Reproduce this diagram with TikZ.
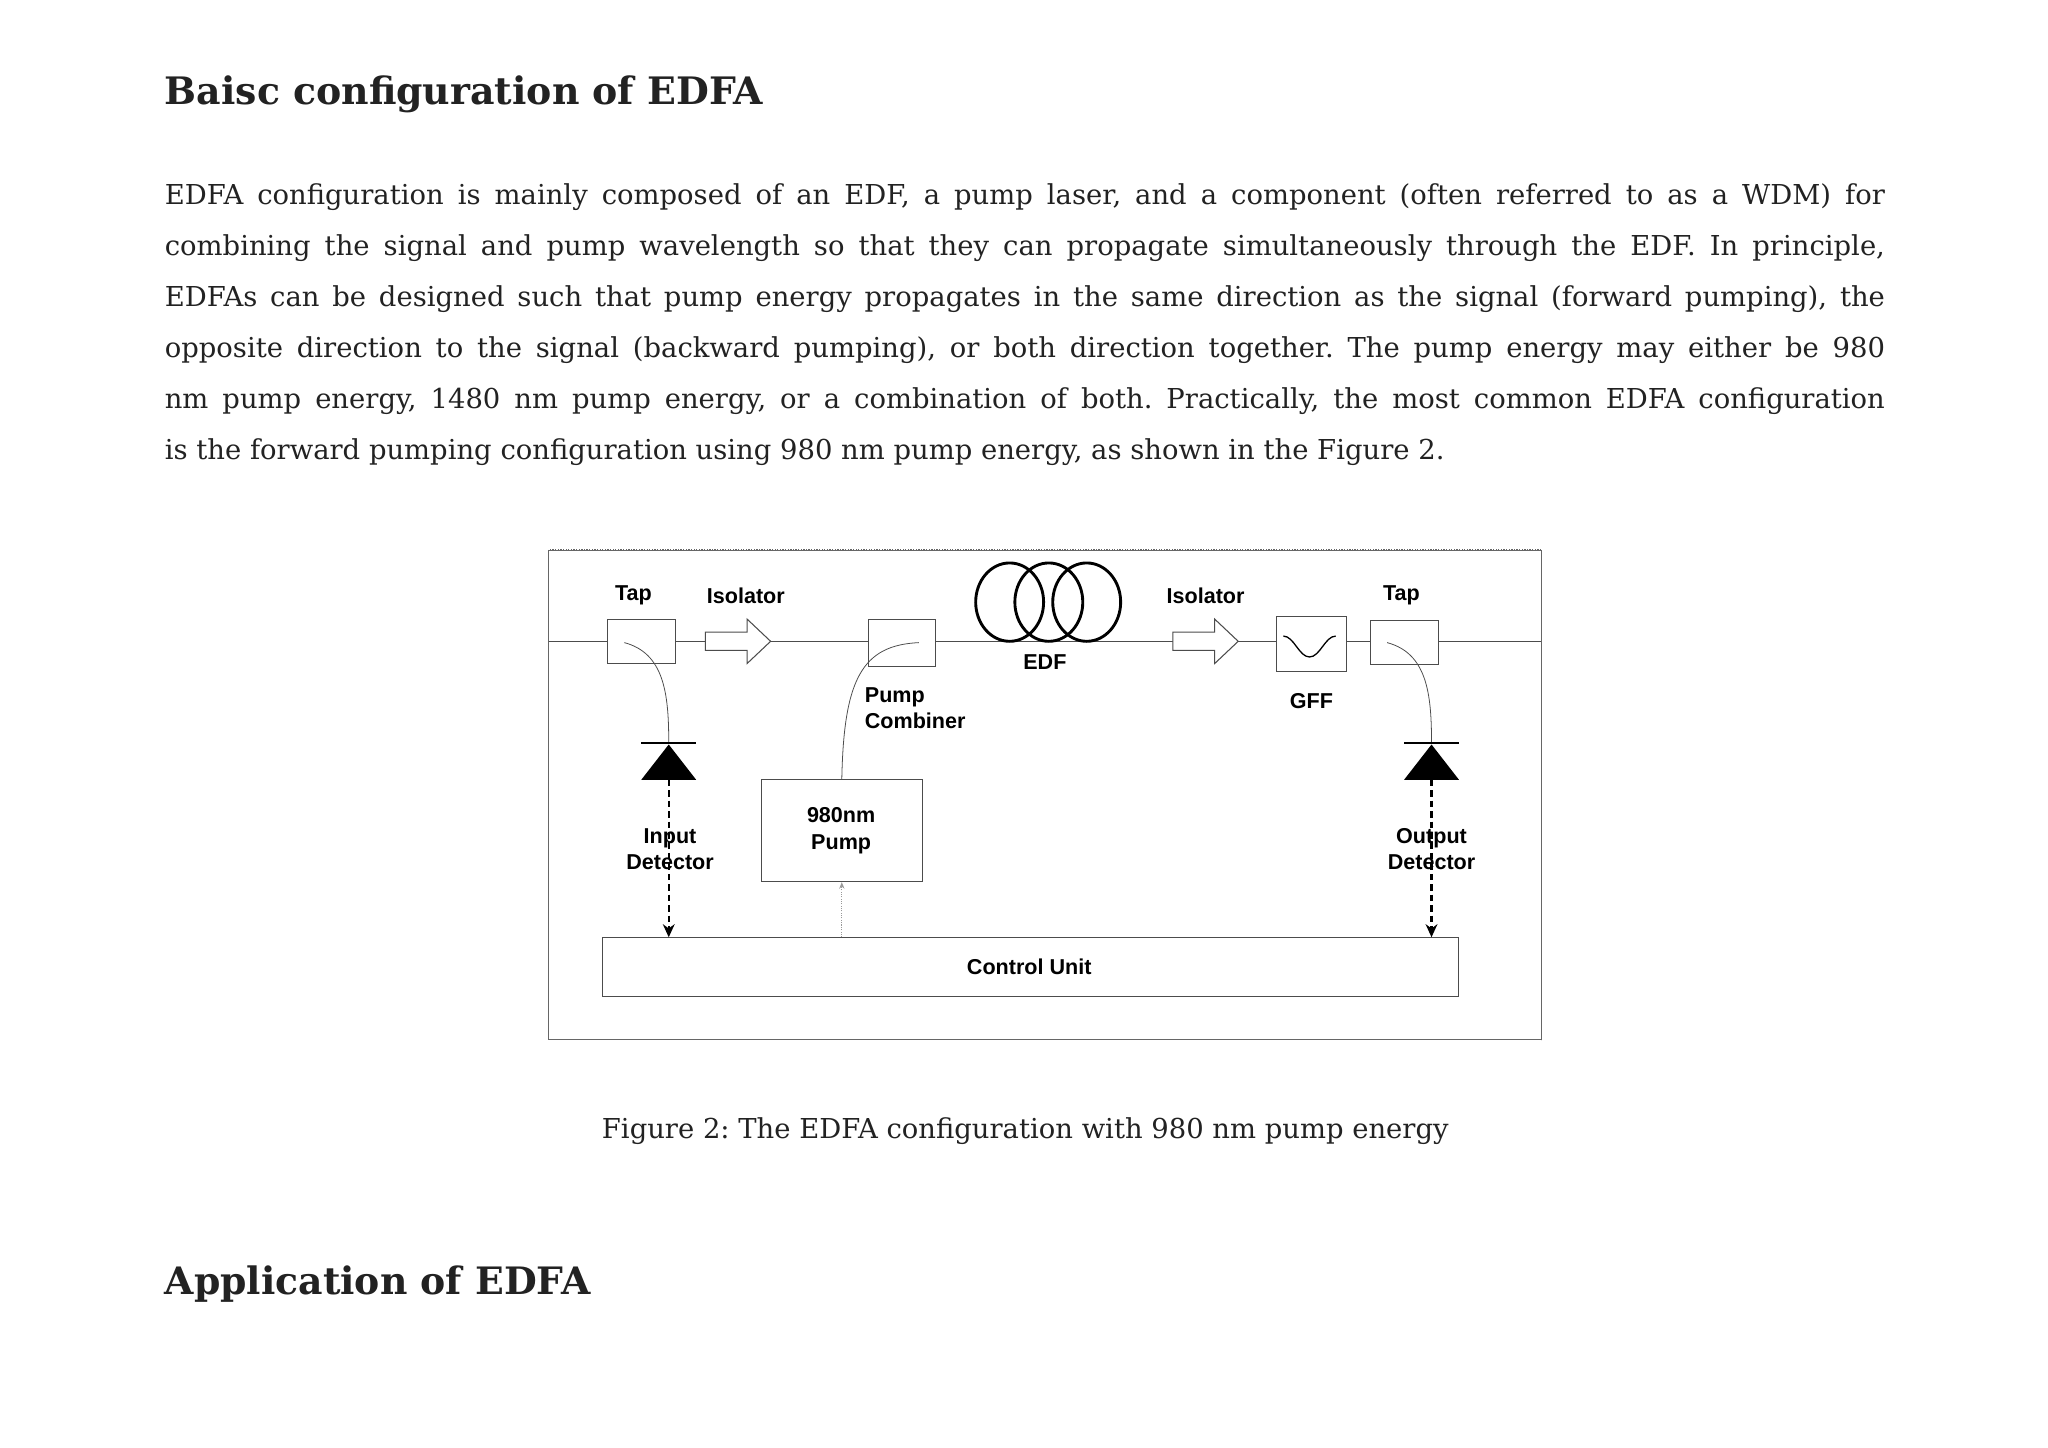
\documentclass[tikz,border=0pt]{standalone}
\usepackage{fontspec}
\setmainfont{DejaVu Serif}
\newfontfamily\diag{Liberation Sans}
\usetikzlibrary{arrows.meta}
\definecolor{txt}{HTML}{222222}
\frenchspacing
\begin{document}
\begin{tikzpicture}[x=1pt,y=-1pt,
  para/.style={anchor=west,inner sep=0,text=txt,font=\fontsize{21}{22}\selectfont},
  lab/.style={inner sep=0,font=\diag\bfseries\fontsize{16.5}{18}\selectfont,align=center},
  comp/.style={draw=black!70,line width=0.8pt,inner sep=0},
  fib/.style={black!70,line width=0.7pt}]
\useasboundingbox (0,0) rectangle (1568,1108);
\fill[white] (0,0) rectangle (1568,1108);
\node[para,font=\bfseries] (h1) at (126,72) {\resizebox{458pt}{!}{Baisc configuration of EDFA}};
\foreach \t [count=\i] in {
{EDFA configuration is mainly composed of an EDF, a pump laser, and a component (often referred to as a WDM) for},
{combining the signal and pump wavelength so that they can propagate simultaneously through the EDF. In principle,},
{EDFAs can be designed such that pump energy propagates in the same direction as the signal (forward pumping), the},
{opposite direction to the signal (backward pumping), or both direction together. The pump energy may either be 980},
{nm pump energy, 1480 nm pump energy, or a combination of both. Practically, the most common EDFA configuration}}
  \node[para] (l\i) at (126,{151+39*(\i-1)}) {\makebox[1317pt][s]{\t}};
\node[para] (l6) at (126,346) {is the forward pumping configuration using 980 nm pump energy, as shown in the Figure 2.};
\node[para,anchor=center] (cap) at (785,866) {Figure 2: The EDFA configuration with 980 nm pump energy};
\node[para,font=\bfseries] (h2) at (126,983) {\resizebox{326pt}{!}{Application of EDFA}};
% diagram
\draw[black!60,line width=1pt,densely dotted] (420,421) rectangle (1180,796);
\draw[black!60,line width=0.5pt] (420,421) rectangle (1180,796);
\draw[fib] (420,491) -- (1180,491);
\node[comp,fill=white,minimum width=52pt,minimum height=34pt] (tap1) at (491,491) {};
\node[comp,fill=white,minimum width=51pt,minimum height=36pt] (pc) at (690.5,492) {};
\node[comp,fill=white,minimum width=54pt,minimum height=42pt] (gff) at (1004,493) {};
\node[comp,fill=white,minimum width=52pt,minimum height=34pt] (tap2) at (1075,492) {};
\draw[black,line width=1pt] (gff.west)++(6,-6) .. controls +(8,0) and +(-8,0) .. ++(20,16) .. controls +(8,0) and +(-8,0) .. ++(20,-16);
\foreach \x in {540,898}{
 \draw[black!70,fill=white,line width=0.8pt] (\x,484) -- (\x+32,484) -- (\x+32,474) -- (\x+50,491) -- (\x+32,508) -- (\x+32,498) -- (\x,498) -- cycle;}
\foreach \x in {773,803,832}
 \draw[black,line width=2.2pt] (\x,461) ellipse (26 and 30);
% pump box and control
\node[comp,minimum width=123pt,minimum height=78pt] (pump) at (644.5,636) {};
\node[lab] at (644,636) {980nm\\[2pt]Pump};
\node[comp,minimum width=656pt,minimum height=45pt] (cu) at (789,740.5) {};
\node[lab] at (788,740) {Control Unit};
% diodes
\foreach \x/\n in {512/d1,1096/d2}{
 \draw[black,line width=1.8pt] (\x-21,569) -- (\x+21,569);
 \fill[black] (\x,570) -- (\x+21,597) -- (\x-21,597) -- cycle;
 \coordinate (\n) at (\x,597);
 \coordinate (\n t) at (\x,568);}
\draw[black!70,line width=0.6pt] (tap1.center)++(-13,1) .. controls (508,500) and (512,530) .. (d1t);
\draw[black!70,line width=0.6pt] (tap2.center)++(-13,0) .. controls (1092,500) and (1096,530) .. (d2t);
\draw[black!70,line width=0.6pt] (pc.center)++(13,0) .. controls (660,494) and (646,520) .. (pump.north);
\draw[black,line width=1.8pt,dash pattern=on 5pt off 3pt,-{Stealth[length=10pt,width=9pt]}] (d1) -- (d1|-cu.north);
\draw[black,line width=1.8pt,dash pattern=on 5pt off 3pt,-{Stealth[length=10pt,width=9pt]}] (d2) -- (d2|-cu.north);
\draw[black!40,line width=0.8pt,densely dotted,-{Stealth[length=5pt,width=4pt]}] (pump.south|-cu.north) -- (pump.south);
\node[lab] at (485,456) {Tap};
\node[lab] at (571,456) {Isolator};
\node[lab] at (923,456) {Isolator};
\node[lab] at (1073,456) {Tap};
\node[lab] at (800,507) {EDF};
\node[lab] at (1004,537) {GFF};
\node[lab,align=left,anchor=west] at (662,542) {Pump\\[2pt]Combiner};
\node[lab] at (513,650) {Input\\[2pt]Detector};
\node[lab] at (1096,650) {Output\\[2pt]Detector};
\end{tikzpicture}
\end{document}
